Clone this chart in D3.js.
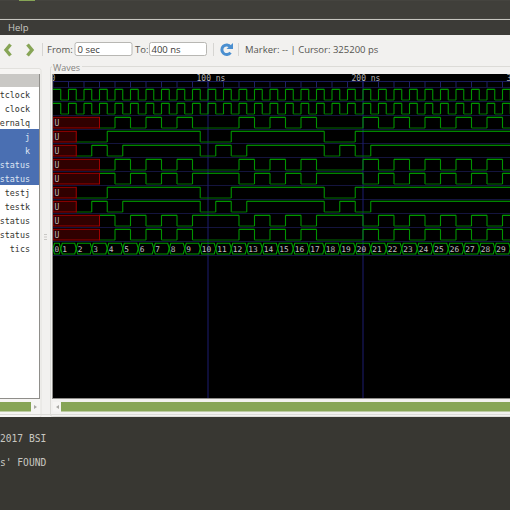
<!DOCTYPE html>
<html>
<head>
<meta charset="utf-8">
<script src="https://cdn.jsdelivr.net/npm/d3@7"></script>
<style>
  html, body { margin: 0; padding: 0; background: #383732; overflow: hidden; }
  svg { display: block; }
  .ui { font-family: "Open Sans", "Noto Sans", sans-serif; }
  .mono { font-family: "DejaVu Sans Mono", monospace; }
</style>
</head>
<body>
<div id="chart"></div>
<script>
// Signal names as far as they are visible in the list
var signalNames = ["tclock", "clock", "ernalq", "j", "k", "status", "status", "testj", "testk", "status", "status", "tics"];
var selectedRows = [3, 4, 5, 6];

// Toggle times in ns, each row starts at the level given in its start value
var clockEdges = [5, 10, 15, 20, 25, 30, 35, 40, 45, 50, 55, 60, 65, 70, 75, 80, 85, 90, 95, 100, 105, 110, 115, 120, 125, 130, 135, 140, 145, 150, 155, 160, 165, 170, 175, 180, 185, 190, 195, 200, 205, 210, 215, 220, 225, 230, 235, 240, 245, 250, 255, 260, 265, 270, 275, 280, 285, 290, 295];
var qEdges = [40, 50, 60, 70, 80, 90, 120, 130, 140, 150, 160, 170, 200, 210, 220, 230, 240, 250, 260, 270, 280, 290];
var nqEdges = [40, 50, 60, 70, 80, 90, 120, 130, 140, 150, 160, 170, 200, 210, 220, 230, 240, 250, 260, 270, 280, 290];
var jEdges = [35, 95, 115, 175, 195];
var kEdges = [25, 35, 45, 95, 105, 115, 125, 175, 185, 195, 205];

// Bus row, the segment after 29 starts right at the edge and shows no number
var ticLabels = ["0", "1", "2", "3", "4", "5", "6", "7", "8", "9", "10", "11", "12", "13", "14", "15", "16", "17", "18", "19", "20", "21", "22", "23", "24", "25", "26", "27", "28", "29"];
var ticStarts = [0, 5, 15, 25, 35, 45, 55, 65, 75, 85, 95, 105, 115, 125, 135, 145, 155, 165, 175, 185, 195, 205, 215, 225, 235, 245, 255, 265, 275, 285, 295];

// Time axis
var minorTicks = [0, 10, 20, 30, 40, 50, 60, 70, 80, 90, 100, 110, 120, 130, 140, 150, 160, 170, 180, 190, 200, 210, 220, 230, 240, 250, 260, 270, 280, 290, 300];
var majorTicks = [100, 200, 300];
var majorLabels = ["100 ns", "200 ns", "3"];

// Rows: edges, start level, end of the undefined part
var rows = [
  { edges: clockEdges, start: 1, undef: 0 },
  { edges: clockEdges, start: 1, undef: 0 },
  { edges: qEdges, start: 0, undef: 30 },
  { edges: jEdges, start: 0, undef: 15 },
  { edges: kEdges, start: 0, undef: 15 },
  { edges: qEdges, start: 0, undef: 30 },
  { edges: nqEdges, start: 1, undef: 30 },
  { edges: jEdges, start: 0, undef: 15 },
  { edges: kEdges, start: 0, undef: 15 },
  { edges: nqEdges, start: 1, undef: 30 },
  { edges: qEdges, start: 0, undef: 30 }
];

var svg = d3.select("#chart").append("svg").attr("width", 510).attr("height", 510);

function box(x, y, w, h, fill, stroke) {
  return svg.append("rect").attr("x", x).attr("y", y).attr("width", w).attr("height", h)
    .attr("fill", fill).attr("stroke", stroke || "none");
}
function label(x, y, str, cls, size, color) {
  return svg.append("text").attr("x", x).attr("y", y).attr("class", cls)
    .attr("font-size", size).attr("fill", color).text(str);
}

// Window chrome
box(0, 0, 510, 19, "#45443f");
box(0, 1, 510, 17, "#403f3a");
box(19, 0, 16, 1, "#87a556");
box(0, 19, 510, 1, "#c6c5bf");
box(0, 20, 510, 15, "#3c3b37");
label(8, 31, "Help", "ui", 9.5, "#c9c8c2");
box(0, 35, 510, 382, "#f2f1ef");

// Toolbar
svg.append("path").attr("d", "M10.5 44.5 L6 50 L10.5 55.5").attr("fill", "none").attr("stroke", "#87a556").attr("stroke-width", 3.4);
svg.append("path").attr("d", "M27.5 44.5 L32 50 L27.5 55.5").attr("fill", "none").attr("stroke", "#87a556").attr("stroke-width", 3.4);
box(42, 43, 1, 13, "#d6d5d2");
box(213, 43, 1, 13, "#d6d5d2");
box(238, 43, 1, 13, "#d6d5d2");
label(47, 53, "From:", "ui", 9.5, "#55544f");
box(75, 42.5, 57, 13, "#ffffff", "#b8b7b3").attr("rx", 2);
label(77.5, 53, "0 sec", "ui", 9.5, "#3c3b37");
label(135, 53, "To:", "ui", 9.5, "#55544f");
box(149.5, 42.5, 57, 13, "#ffffff", "#b8b7b3").attr("rx", 2);
label(151.5, 53, "400 ns", "ui", 9.5, "#3c3b37");
svg.append("path").attr("d", "M230.5 46.8 A4.8 4.8 0 1 0 230.5 52.6").attr("fill", "none").attr("stroke", "#4a8fd0").attr("stroke-width", 3);
svg.append("path").attr("d", "M226.5 49 L233 49 L233 43 Z").attr("fill", "#4a8fd0");
label(245, 53, "Marker: -- | Cursor: 325200 ps", "ui", 9.5, "#55544f");

// Frames around the list and the waves
box(-3, 68.5, 44, 349, "#f6f5f3", "#e2e1dd").attr("rx", 2);
box(50.5, 66.5, 470, 350, "#f2f1ef", "#dcdbd7").attr("rx", 2);
box(52, 62, 30, 8, "#f2f1ef");
label(53, 71, "Waves", "ui", 9, "#85847f");

// Signal list
var rowY = d3.scaleBand().domain(d3.range(signalNames.length)).range([87, 255]);

box(0, 74, 39, 324, "#ffffff");
box(0, 74, 39, 13, "#c9c8c5");
svg.selectAll("rect.sel").data(selectedRows).enter().append("rect").attr("class", "sel")
  .attr("x", 0).attr("width", 39)
  .attr("y", function(d) { return rowY(d); })
  .attr("height", rowY.bandwidth())
  .attr("fill", "#4a6fb2");
svg.selectAll("text.name").data(signalNames).enter().append("text").attr("class", "name mono")
  .attr("x", 30).attr("text-anchor", "end").attr("font-size", 8.4)
  .attr("y", function(d, i) { return rowY(i) + 10.8; })
  .attr("fill", function(d, i) { return selectedRows.indexOf(i) >= 0 ? "#dfe6f3" : "#33332f"; })
  .text(function(d) { return d; });
box(39, 74, 1, 324, "#8f8e8a");
box(0, 398, 40, 1, "#8f8e8a");
// Pane handle
box(44, 234, 3, 1, "#c9c8c5");
box(44, 236.5, 3, 1, "#c9c8c5");
box(44, 239, 3, 1, "#c9c8c5");

// Wave view
var x = d3.scaleLinear().domain([0, 300]).range([53, 518]);
var level = d3.scaleLinear().domain([0, 1]).range([13, 2.3]);

svg.append("clipPath").attr("id", "waves").append("rect")
  .attr("x", 53).attr("y", 74).attr("width", 457).attr("height", 324);
var view = svg.append("g").attr("clip-path", "url(#waves)");
view.append("rect").attr("x", 53).attr("y", 74).attr("width", 457).attr("height", 324).attr("fill", "#000000");

// Row separators
view.selectAll("line.sep").data(d3.range(signalNames.length + 1)).enter().append("line").attr("class", "sep")
  .attr("x1", 53).attr("x2", 510)
  .attr("y1", function(d) { return 87.5 + d * rowY.step(); })
  .attr("y2", function(d) { return 87.5 + d * rowY.step(); })
  .attr("stroke", "#14143e");

// Time axis ticks and labels
view.append("line").attr("x1", 53).attr("x2", 510).attr("y1", 81.5).attr("y2", 81.5).attr("stroke", "#1a1a5a");
view.selectAll("line.minor").data(minorTicks).enter().append("line").attr("class", "minor")
  .attr("x1", function(d) { return x(d); }).attr("x2", function(d) { return x(d); })
  .attr("y1", 81.5).attr("y2", 87.5).attr("stroke", "#1f1f66");
view.selectAll("line.major").data(majorTicks).enter().append("line").attr("class", "major")
  .attr("x1", function(d) { return x(d); }).attr("x2", function(d) { return x(d); })
  .attr("y1", 81.5).attr("y2", 398).attr("stroke", "#1c1c70");
view.selectAll("text.major").data(majorTicks).enter().append("text").attr("class", "major mono")
  .attr("x", function(d) { return x(d) - 11.5; }).attr("y", 80.5)
  .attr("font-size", 8).attr("fill", "#b0b0b0")
  .text(function(d, i) { return majorLabels[i]; });
view.append("text").attr("class", "mono").attr("x", 50.5).attr("y", 80.5).attr("font-size", 8).attr("fill", "#b0b0b0").text("0");

// Turn toggle times into step points for one row
function stepPoints(row) {
  var v = row.start;
  var pts = [[row.undef, v]];
  row.edges.forEach(function(t) {
    if (t > row.undef) {
      pts.push([t, v]);
      v = 1 - v;
      pts.push([t, v]);
    }
  });
  pts.push([x.domain()[1], v]);
  return pts;
}

// High level is bright, low level dark, the edges in between
function segColor(a, b) {
  if (a[1] !== b[1]) return "#009400";
  return a[1] === 1 ? "#00b000" : "#006a00";
}

rows.forEach(function(row, i) {
  var top = rowY(i);
  var pts = stepPoints(row);

  view.append("g").selectAll("line").data(d3.pairs(pts)).enter().append("line")
    .attr("x1", function(d) { return x(d[0][0]); })
    .attr("x2", function(d) { return x(d[1][0]); })
    .attr("y1", function(d) { return top + level(d[0][1]); })
    .attr("y2", function(d) { return top + level(d[1][1]); })
    .attr("stroke", function(d) { return segColor(d[0], d[1]); })
    .attr("stroke-width", 1.1);

  // Undefined part of the signal
  if (row.undef > 0) {
    view.append("rect")
      .attr("x", x(0)).attr("y", top + level(1))
      .attr("width", x(row.undef) - x(0)).attr("height", level(0) - level(1))
      .attr("fill", "#300000").attr("stroke", "#a00000");
    view.append("text").attr("class", "mono").attr("x", x(0) + 1.5).attr("y", top + 11)
      .attr("font-size", 8).attr("fill", "#b8b8b8").text("U");
  }
});

// Bus row with the tic numbers
var busTop = rowY(11);
view.selectAll("path.bus").data(ticStarts).enter().append("path").attr("class", "bus")
  .attr("d", function(d, i) {
    var x0 = x(d), x1 = x(i + 1 < ticStarts.length ? ticStarts[i + 1] : x.domain()[1]);
    var hi = busTop + level(1), lo = busTop + level(0), mid = (hi + lo) / 2;
    return "M" + x0 + " " + mid + " L" + (x0 + 1.5) + " " + hi + " L" + (x1 - 1.5) + " " + hi +
      " L" + x1 + " " + mid + " L" + (x1 - 1.5) + " " + lo + " L" + (x0 + 1.5) + " " + lo + " Z";
  })
  .attr("fill", "none").attr("stroke", "#009c00").attr("stroke-width", 1.1);
view.selectAll("text.tic").data(ticLabels).enter().append("text").attr("class", "tic mono")
  .attr("x", function(d, i) { return x(ticStarts[i]) + 1.6; }).attr("y", busTop + 11)
  .attr("font-size", 7.8).attr("fill", "#c0c0c0")
  .text(function(d) { return d; });

box(53, 398, 457, 1, "#8f8e8a");
box(52, 74, 1, 325, "#8f8e8a");

// Scrollbars
box(0, 402, 31, 9.5, "#87a556");
box(31, 402, 8, 9.5, "#f6f5f3");
svg.append("path").attr("d", "M34 405 L37 407 L34 409 Z").attr("fill", "#a8a7a3");
box(53, 402, 8, 9.5, "#f6f5f3");
svg.append("path").attr("d", "M59 405 L56 407 L59 409 Z").attr("fill", "#a8a7a3");
box(61, 402, 449, 9.5, "#87a556");
box(0, 414, 510, 1, "#dcdbd7");

// Console at the bottom
box(0, 417, 510, 93, "#383732");
label(0, 442, "2017 BSI", "mono", 9.6, "#c8c7c1");
label(0, 466, "s' FOUND", "mono", 9.6, "#c8c7c1");
</script>
</body>
</html>
